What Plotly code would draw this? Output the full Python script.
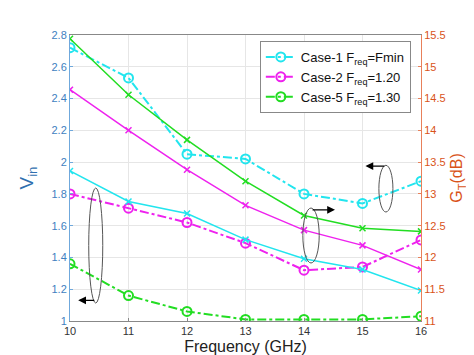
import plotly.graph_objects as go

freq = [10, 11, 12, 13, 14, 15, 16]

# Vin (left axis), dashed with circles
vin_case1 = [2.72, 2.53, 2.05, 2.02, 1.80, 1.74, 1.88]
vin_case2 = [1.80, 1.71, 1.62, 1.49, 1.32, 1.34, 1.51]
vin_case5 = [1.36, 1.16, 1.06, 1.01, 1.01, 1.01, 1.03]

# GT (right axis, dB), solid with x markers
gt_case1 = [13.36, 12.88, 12.69, 12.28, 11.98, 11.81, 11.48]
gt_case2 = [14.64, 14.00, 13.38, 12.82, 12.43, 12.19, 11.81]
gt_case5 = [15.44, 14.56, 13.85, 13.20, 12.66, 12.46, 12.41]

names = ["Case-1 F<sub>req</sub>=Fmin", "Case-2 F<sub>req</sub>=1.20", "Case-5 F<sub>req</sub>=1.30"]
colors = ["#22E5EE", "#EE22EE", "#22DD22"]

fig = go.Figure()

for g, c in zip([gt_case1, gt_case2, gt_case5], colors):
    fig.add_trace(go.Scatter(x=freq, y=g, yaxis="y2", mode="lines+markers",
                             line=dict(color=c, width=1.5),
                             marker=dict(symbol="x-thin", size=6, line=dict(color=c, width=1.5)),
                             showlegend=False))

for v, c, n in zip([vin_case1, vin_case2, vin_case5], colors, names):
    fig.add_trace(go.Scatter(x=freq, y=v, mode="lines+markers", name=n,
                             line=dict(color=c, width=2, dash="dashdot"),
                             marker=dict(symbol="circle-open", size=9, line=dict(color=c, width=2))))

ell = dict(type="circle", xref="x", yref="y", line=dict(color="#555555", width=1))
fig.add_shape(x0=10.32, x1=10.56, y0=1.113, y1=1.837, **ell)
fig.add_shape(x0=13.98, x1=14.26, y0=1.365, y1=1.711, **ell)
fig.add_shape(x0=15.28, x1=15.52, y0=1.686, y1=1.98, **ell)

arr = dict(xref="x", yref="y", axref="x", ayref="y", text="", showarrow=True,
           arrowhead=2, arrowsize=1.3, arrowwidth=1.2, arrowcolor="#000000")
fig.add_annotation(x=10.14, y=1.13, ax=10.44, ay=1.13, **arr)
fig.add_annotation(x=14.53, y=1.70, ax=14.12, ay=1.70, **arr)
fig.add_annotation(x=15.05, y=1.975, ax=15.40, ay=1.975, **arr)

fig.update_layout(
    width=474, height=355,
    margin=dict(l=62, r=61, t=27, b=42),
    paper_bgcolor="white", plot_bgcolor="white",
    font=dict(family="Liberation Sans, Arial, sans-serif", size=11, color="#333333"),
    xaxis=dict(range=[10, 16], tickvals=freq, showgrid=True, gridcolor="#E6E6E6",
               showline=True, linecolor="#888888", mirror=True, ticks="inside", ticklen=3,
               tickcolor="#888888", zeroline=False,
               title=dict(text="Frequency (GHz)", font=dict(size=16, color="#222222"), standoff=4)),
    yaxis=dict(range=[1, 2.8], dtick=0.2, showgrid=True, gridcolor="#E6E6E6",
               showline=True, linecolor="#6FA8DC", ticks="inside", ticklen=3, tickcolor="#6FA8DC",
               tickfont=dict(color="#3F7FBF"), zeroline=False, tickformat="~g",
               title=dict(text="V<sub>in</sub>", font=dict(size=19, color="#2F6FAF"), standoff=12)),
    yaxis2=dict(range=[11, 15.5], dtick=0.5, overlaying="y", side="right", showgrid=False,
                showline=True, linecolor="#E8805A", ticks="inside", ticklen=3, tickcolor="#E8805A",
                tickfont=dict(color="#D95319"), zeroline=False, tickformat="~g",
                title=dict(text="G<sub>T</sub>(dB)", font=dict(size=16, color="#D95319"), standoff=6)),
    legend=dict(x=0.971, y=0.979, xanchor="right", yanchor="top", bgcolor="white",
                bordercolor="#888888", borderwidth=1, font=dict(size=13, color="#111111"),
                tracegroupgap=0, itemwidth=30),
)

fig.write_html("out.html")
